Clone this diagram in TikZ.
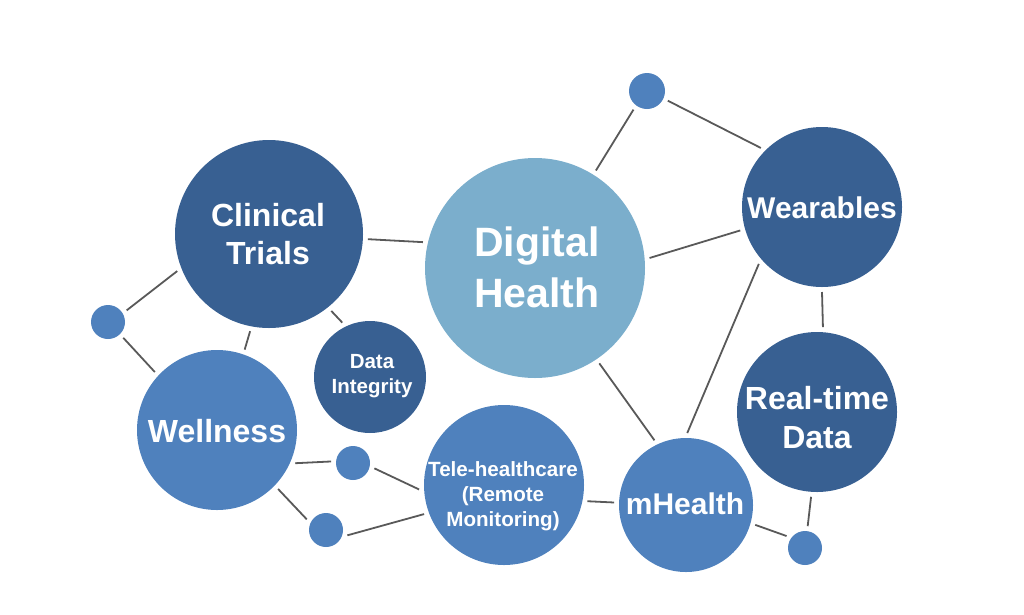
\documentclass[tikz,border=0pt]{standalone}
\usepackage{fontspec}
\setmainfont{Liberation Sans}
\definecolor{darkb}{RGB}{56,96,146}
\definecolor{medb}{RGB}{79,129,189}
\definecolor{lightb}{RGB}{123,174,204}
\definecolor{edgegray}{RGB}{89,89,89}
\begin{document}
\begin{tikzpicture}[x=1pt,y=-1pt,
  bub/.style={circle, inner sep=0pt, outer sep=5pt, minimum size=#1},
  lbl/.style={text=white, align=center, inner sep=0pt},
  edge/.style={draw=edgegray, line width=1.8pt}]
\useasboundingbox (0,0) rectangle (1024,614);
% bubbles
\node[bub=220pt, fill=lightb] (dh) at (535,268) {};
\node[bub=188pt, fill=darkb] (ct) at (269,234) {};
\node[bub=160pt, fill=darkb] (wear) at (822,207) {};
\node[bub=160pt, fill=darkb] (rt) at (817,412) {};
\node[bub=160pt, fill=medb] (well) at (217,430) {};
\node[bub=112pt, fill=darkb] (di) at (370,377) {};
\node[bub=160pt, fill=medb] (tele) at (504,485) {};
\node[bub=134pt, fill=medb] (mh) at (686,505) {};
% small dots
\node[bub=36pt, fill=medb] (d1) at (647,91) {};
\node[bub=34pt, fill=medb] (d2) at (108,322) {};
\node[bub=34pt, fill=medb] (d3) at (353,463) {};
\node[bub=34pt, fill=medb] (d4) at (326,530) {};
\node[bub=34pt, fill=medb] (d5) at (805,548) {};
% labels
\node[lbl, font=\fontsize{41}{51}\selectfont\bfseries] (dhl) at (537,267) {Digital\\Health};
\node[lbl, font=\fontsize{32}{38}\selectfont\bfseries] (ctl) at (268,234.5) {Clinical\\Trials};
\node[lbl, font=\fontsize{30}{36}\selectfont\bfseries] (wearl) at (822,207.5) {Wearables};
\node[lbl, font=\fontsize{32}{39}\selectfont\bfseries] (rtl) at (817,418) {Real-time\\Data};
\node[lbl, font=\fontsize{32}{38}\selectfont\bfseries] (welll) at (217,431) {Wellness};
\node[lbl, font=\fontsize{20.5}{25}\selectfont\bfseries] (dil) at (372,375.7) {Data\\Integrity};
\node[lbl, font=\fontsize{20.6}{25}\selectfont\bfseries] (telel) at (503,496) {Tele-healthcare\\(Remote\\Monitoring)};
\node[lbl, font=\fontsize{30}{36}\selectfont\bfseries] (mhl) at (685,504) {mHealth};
% connectors
\draw[edge] (d1.234) -- (dh.58.5);
\draw[edge] (d1.335) -- (wear.136.6);
\draw[edge] (ct.357) -- (dh.167.5);
\draw[edge] (dh.5.6) -- (wear.196);
\draw[edge] (wear.270) -- (rt.86.8);
\draw[edge] (wear.222) -- (mh.89);
\draw[edge] (dh.304) -- (mh.116);
\draw[edge] (ct.202.5) -- (d2.32.7);
\draw[edge] (d2.314) -- (well.137.3);
\draw[edge] (ct.259) -- (well.71.6);
\draw[edge] (ct.309) -- (di.117.8);
\draw[edge] (well.337) -- (d3.176);
\draw[edge] (d3.346.5) -- (tele.183.5);
\draw[edge] (well.316) -- (d4.151);
\draw[edge] (d4.346.4) -- (tele.200);
\draw[edge] (tele.349) -- (mh.178.7);
\draw[edge] (mh.344.4) -- (d5.147.4);
\draw[edge] (rt.266.3) -- (d5.83.3);
\end{tikzpicture}
\end{document}
